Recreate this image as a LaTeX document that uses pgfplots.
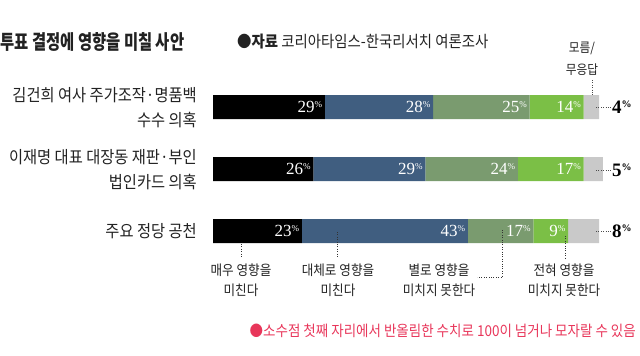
\documentclass[border=0pt]{standalone}
\usepackage{fontspec}
\setmainfont{Noto Sans CJK KR}[FakeStretch=0.9]
\newfontfamily\titlefont{Noto Sans CJK KR}[FakeStretch=0.77]
\newfontfamily\numfont{Liberation Serif}
\usepackage{pgfplots}
\usepackage{pgfplotstable}
\pgfplotsset{compat=1.18}
\definecolor{cA}{HTML}{000000}
\definecolor{cB}{HTML}{405E80}
\definecolor{cC}{HTML}{7A9B6F}
\definecolor{cD}{HTML}{7BBF46}
\definecolor{cE}{HTML}{C9C9C9}
\definecolor{txt}{HTML}{222222}
\definecolor{redn}{HTML}{E8365A}
\pgfplotstableread{
y a b c d e
0 29 28 25 14 4
1 26 29 24 17 5
2 23 43 17 9 8
}\data
\newcommand{\pct}[1]{{\numfont\fontsize{17}{17}\selectfont #1\raisebox{0.65ex}{\fontsize{9}{9}\selectfont\%}}}
\newcommand{\pctb}[1]{{\numfont\bfseries\fontsize{19}{19}\selectfont #1\raisebox{0.65ex}{\fontsize{10}{10}\selectfont\%}}}
\begin{document}
\begin{tikzpicture}
\useasboundingbox (0pt,0pt) rectangle (640pt,-356pt);
\begin{axis}[
  at={(213pt,-262pt)}, anchor=south west,
  scale only axis, width=386pt, height=186pt,
  xmin=0, xmax=100, ymin=-0.5, ymax=2.5, y dir=reverse,
  xbar stacked, bar width=24pt,
  hide axis, clip=false,
  every node near coord/.append style={anchor=east, text=white, inner sep=2.5pt, xshift={\pgfplotspointmeta*1.93pt}},
  point meta=explicit symbolic,
]
\addplot[fill=cA, draw=none, nodes near coords={\pct{\pgfplotspointmeta}}] table[x=a, y=y, meta=a] {\data};
\addplot[fill=cB, draw=none, nodes near coords={\pct{\pgfplotspointmeta}}] table[x=b, y=y, meta=b] {\data};
\addplot[fill=cC, draw=none, nodes near coords={\pct{\pgfplotspointmeta}}] table[x=c, y=y, meta=c] {\data};
\addplot[fill=cD, draw=none, nodes near coords={\pct{\pgfplotspointmeta}}] table[x=d, y=y, meta=d] {\data};
\addplot[fill=cE, draw=none] table[x=e, y=y, meta=e] {\data};
\end{axis}
% title
\node[anchor=west, inner sep=0pt, text=txt, font=\titlefont\bfseries\fontsize{20}{22}\selectfont] at (0pt,-42pt) {투표 결정에 영향을 미칠 사안};
\node[anchor=west, inner sep=0pt, text=txt, font=\fontsize{16}{18}\selectfont] at (237pt,-42pt) {{\bfseries ●자료} 코리아타임스-한국리서치 여론조사};
% category labels
\node[anchor=east, align=right, inner sep=0pt, text=txt, font=\fontsize{17}{25}\selectfont] at (197pt,-108pt) {김건희 여사 주가조작·명품백\\수수 의혹};
\node[anchor=east, align=right, inner sep=0pt, text=txt, font=\fontsize{17}{25}\selectfont] at (197pt,-170pt) {이재명 대표 대장동 재판·부인\\법인카드 의혹};
\node[anchor=east, align=right, inner sep=0pt, text=txt, font=\fontsize{17}{25}\selectfont] at (197pt,-231pt) {주요 정당 공천};
% unknown label
\node[align=center, inner sep=0pt, text=txt, font=\fontsize{13}{22}\selectfont] at (582pt,-59pt) {모름/\\무응답};
\draw[dotted, black!70] (592pt,-80pt) -- (592pt,-95pt);
% right labels
\foreach \yy/\vv in {107/4,170/5,231/8}{
  \draw[dotted, black!70] (596pt,-\yy pt) -- (611pt,-\yy pt);
  \node[anchor=west, inner sep=0pt, text=black] at (612pt,-\yy pt) {\pctb{\vv}};
}
% bottom annotations
\draw[dotted, black!80] (241pt,-244pt) -- (241pt,-258pt);
\node[align=center, inner sep=0pt, text=txt, font=\fontsize{14}{20}\selectfont] at (241pt,-280pt) {매우 영향을\\미친다};
\draw[dotted, black!80] (337pt,-232pt) -- (337pt,-257pt);
\node[align=center, inner sep=0pt, text=txt, font=\fontsize{14}{20}\selectfont] at (338pt,-280pt) {대체로 영향을\\미친다};
\draw[dotted, black!80] (502pt,-230pt) -- (502pt,-277pt) -- (477pt,-277pt);
\node[align=center, inner sep=0pt, text=txt, font=\fontsize{14}{20}\selectfont] at (439pt,-280pt) {별로 영향을\\미치지 못한다};
\draw[dotted, black!80] (565pt,-236pt) -- (565pt,-258pt);
\node[align=center, inner sep=0pt, text=txt, font=\fontsize{14}{20}\selectfont] at (564pt,-280pt) {전혀 영향을\\미치지 못한다};
% footnote
\node[anchor=east, inner sep=0pt, text=redn, font=\fontsize{15}{17}\selectfont] at (636pt,-331pt) {●소수점 첫째 자리에서 반올림한 수치로 100이 넘거나 모자랄 수 있음};
\end{tikzpicture}
\end{document}
